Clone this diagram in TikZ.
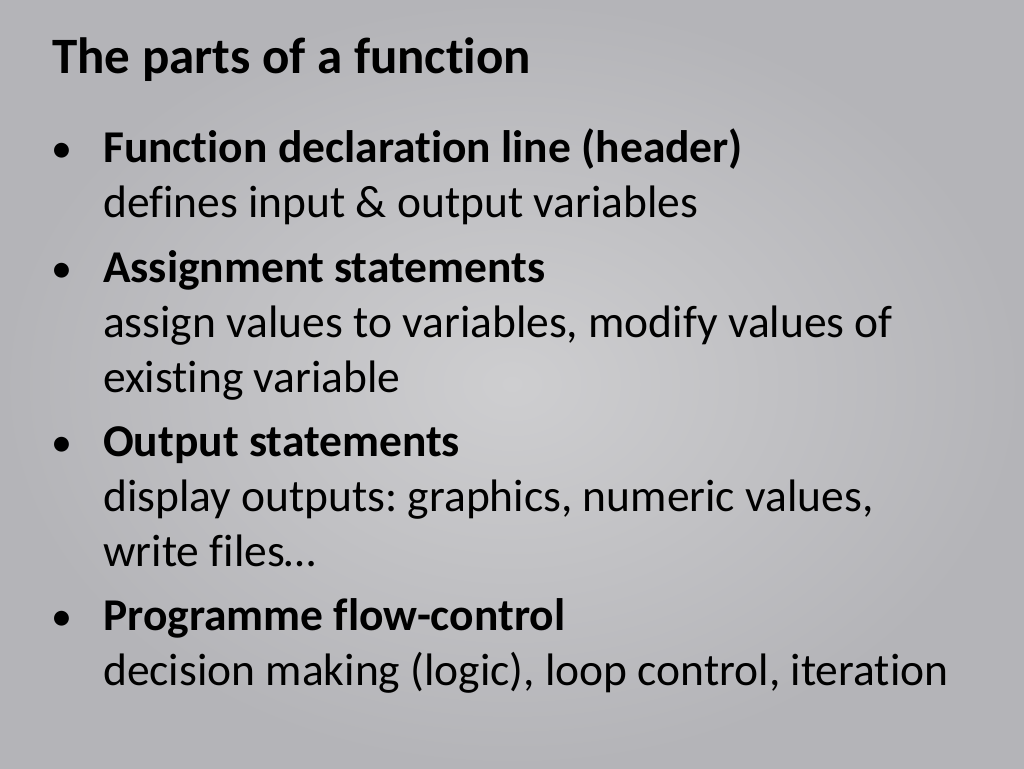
\documentclass[tikz,border=0pt]{standalone}
\usepackage{fontspec}
\setmainfont[RawFeature={-liga;-clig;-dlig}]{Carlito}
\frenchspacing
\definecolor{bgedge}{RGB}{180,180,184}
\definecolor{bgmid}{RGB}{206,206,208}
\begin{document}
\begin{tikzpicture}[x=1pt,y=-1pt,
  txt/.style={anchor=base west,inner sep=0pt,font=\fontsize{45.5}{50}\selectfont,text=black},
  hd/.style={anchor=base west,inner sep=0pt,font=\fontsize{45.5}{50}\selectfont\bfseries,text=black},
  ttl/.style={anchor=base west,inner sep=0pt,font=\fontsize{51}{56}\selectfont\bfseries,text=black},
  bul/.style={anchor=base west,inner sep=0pt,font=\fontsize{42}{46}\selectfont,text=black}]
\path[use as bounding box,inner color=bgmid,outer color=bgedge] (0,0) rectangle (1024,768);
\node[ttl] (title) at (52,74) {The parts of a function};
\foreach \y/\n in {162/b1,282/b2,456/b3,630/b4}{\node[bul] (\n) at (51,\y) {•};}
\node[hd] (h1) at (103,162) {Function declaration line (header)};
\node[txt] (t1) at (103,217) {defines input \& output variables};
\node[hd] (h2) at (103,282) {Assignment statements};
\node[txt] (t2) at (103,337) {assign values to variables, modify values of};
\node[txt] (t2b) at (103,392) {existing variable};
\node[hd] (h3) at (103,456) {Output statements};
\node[txt] (t3) at (103,511) {display outputs: graphics, numeric values,};
\node[txt] (t3b) at (103,566) {write files…};
\node[hd] (h4) at (103,630) {Programme flow-control};
\node[txt] (t4) at (103,685) {decision making (logic), loop control, iteration};
\end{tikzpicture}
\end{document}
